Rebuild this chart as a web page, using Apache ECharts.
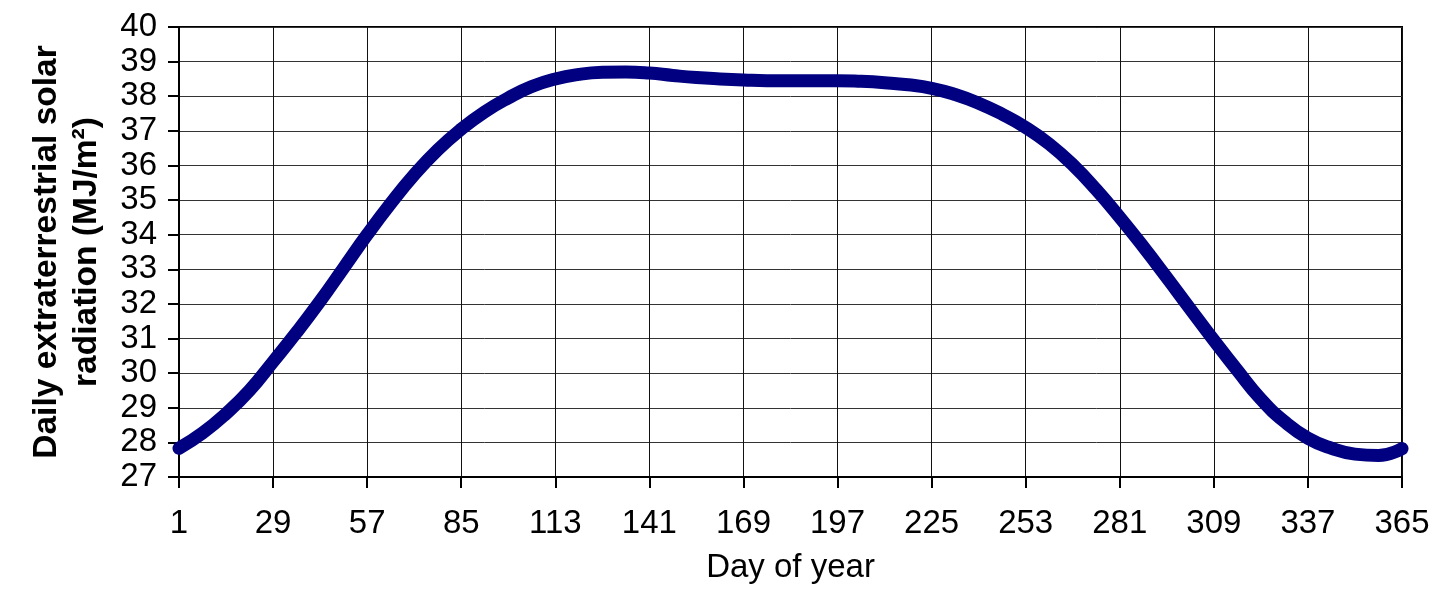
<!DOCTYPE html>
<html>
<head>
<meta charset="utf-8">
<script src="https://cdn.jsdelivr.net/npm/echarts@6/dist/echarts.min.js"></script>
<style>
html,body{margin:0;padding:0;background:#fff;}
#chart{width:1442px;height:599px;}
</style>
</head>
<body>
<div id="chart"></div>
<script>
var days = [1, 8, 15, 22, 29, 36, 43, 50, 57, 64, 71, 78, 85, 92, 99, 106, 113, 120, 127, 134, 141, 148, 155, 162, 169, 176, 183, 190, 197, 204, 211, 218, 225, 232, 239, 246, 253, 260, 267, 274, 281, 288, 295, 302, 309, 316, 323, 330, 337, 344, 351, 358, 365];
var radiation = [27.83, 28.27, 28.83, 29.5, 30.33, 31.18, 32.08, 33.04, 34.0, 34.9, 35.73, 36.45, 37.05, 37.55, 37.95, 38.28, 38.5, 38.63, 38.69, 38.7, 38.67, 38.6, 38.54, 38.5, 38.47, 38.45, 38.45, 38.45, 38.45, 38.43, 38.39, 38.33, 38.23, 38.05, 37.8, 37.48, 37.1, 36.62, 36.02, 35.3, 34.5, 33.65, 32.76, 31.85, 30.95, 30.08, 29.25, 28.6, 28.12, 27.83, 27.66, 27.62, 27.82];
var xTickLabels = [1, 29, 57, 85, 113, 141, 169, 197, 225, 253, 281, 309, 337, 365];
var yMin = 27, yMax = 40, yStep = 1;

var seriesData = days.map(function (d, i) { return [d - 1, radiation[i]]; });

var chart = echarts.init(document.getElementById('chart'));
var FONT = '"Liberation Sans", Arial, sans-serif';
chart.setOption({
  animation: false,
  backgroundColor: '#fff',
  grid: { left: 179, top: 27, width: 1223, height: 450, show: true, borderColor: '#000', borderWidth: 2, containLabel: false },
  xAxis: {
    type: 'value', min: 0, max: 364, interval: 28,
    name: 'Day of year', nameLocation: 'middle', nameGap: 74,
    nameTextStyle: { fontFamily: FONT, fontSize: 33, color: '#000' },
    axisLine: { show: true, onZero: false, lineStyle: { color: '#000', width: 2 } },
    axisTick: { show: true, length: 11, lineStyle: { color: '#000', width: 2 } },
    axisLabel: { margin: 30, fontFamily: FONT, fontSize: 33, color: '#000',
      formatter: function (v) { var i = Math.round(v / 28); return xTickLabels[i] !== undefined ? String(xTickLabels[i]) : ''; } },
    splitLine: { show: true, lineStyle: { color: '#111', width: 1 } }
  },
  yAxis: {
    type: 'value', min: yMin, max: yMax, interval: yStep,
    name: 'Daily extraterrestrial solar\nradiation (MJ/m²)', nameLocation: 'middle', nameGap: 72,
    nameTextStyle: { fontFamily: FONT, fontSize: 33.5, fontWeight: 'bold', color: '#000', lineHeight: 40, align: 'center' },
    axisLine: { show: true, lineStyle: { color: '#000', width: 2 } },
    axisTick: { show: true, length: 11, lineStyle: { color: '#000', width: 2 } },
    axisLabel: { margin: 22, fontFamily: FONT, fontSize: 33, color: '#000' },
    splitLine: { show: true, lineStyle: { color: '#333', width: 1 } }
  },
  series: [{
    type: 'line',
    data: seriesData,
    smooth: 0.5,
    showSymbol: false,
    symbol: 'none',
    lineStyle: { color: '#000080', width: 13, cap: 'round', join: 'round' },
    itemStyle: { color: '#000080' }
  }]
});
</script>
</body>
</html>
